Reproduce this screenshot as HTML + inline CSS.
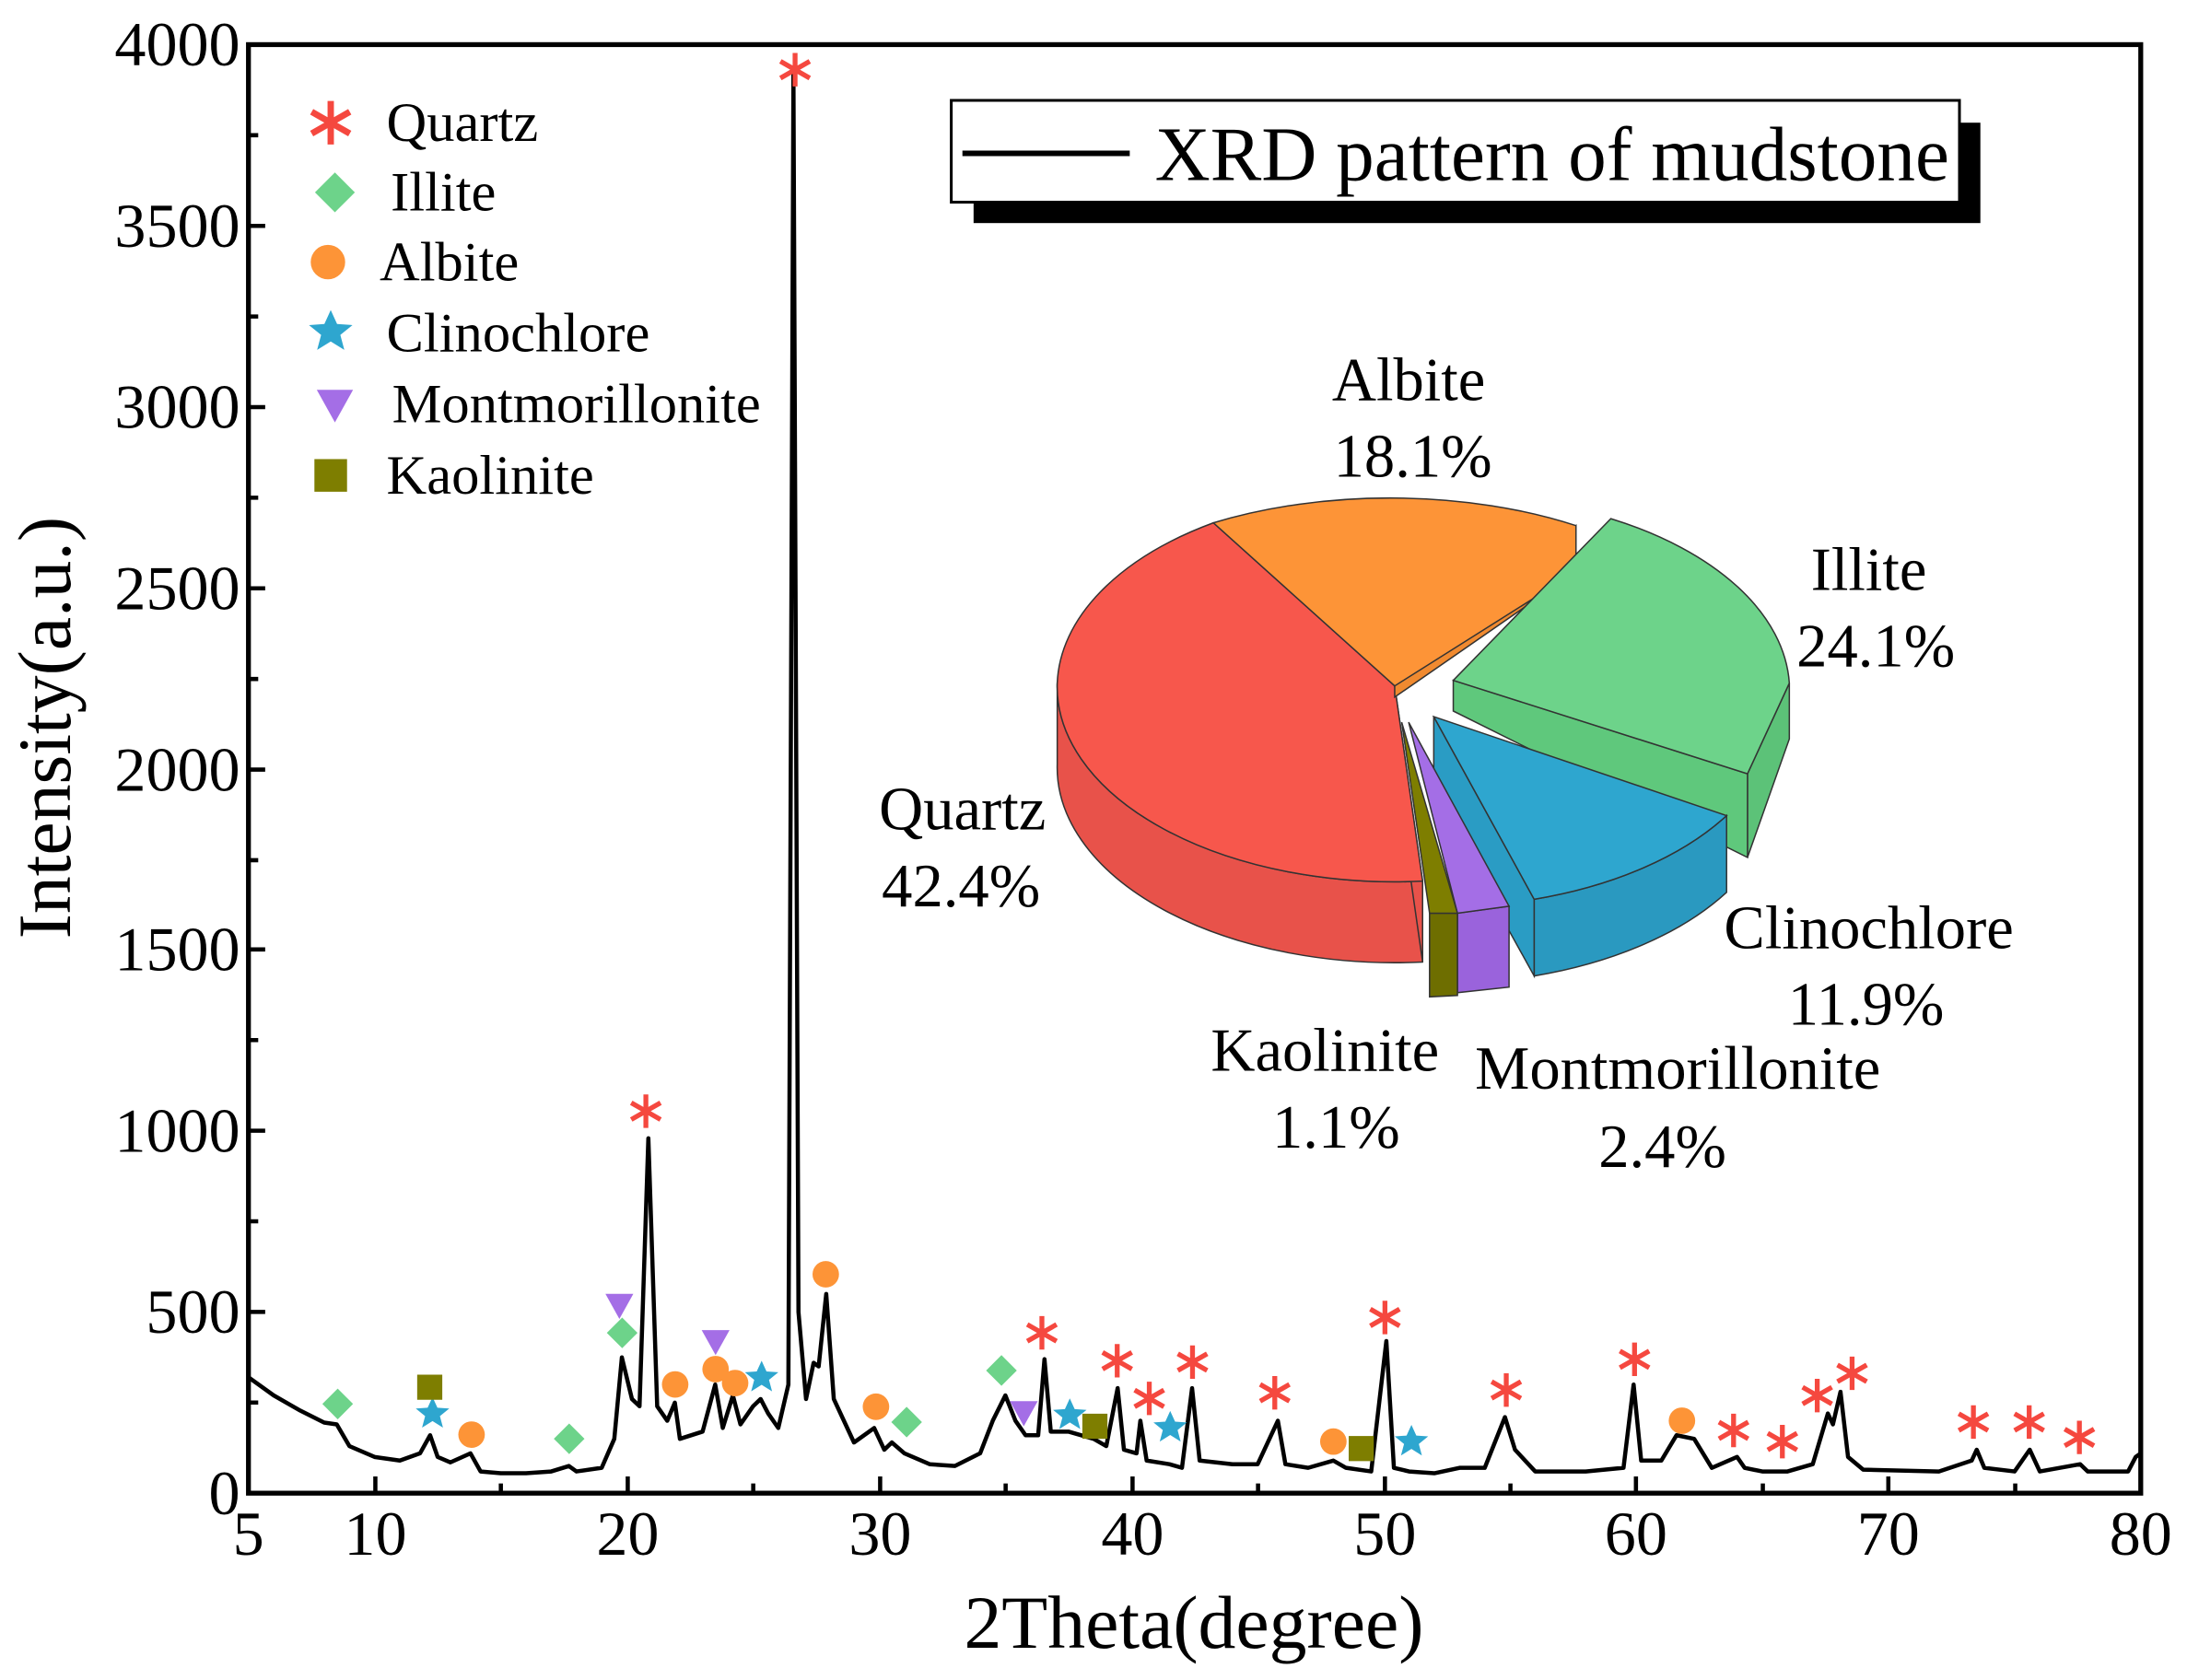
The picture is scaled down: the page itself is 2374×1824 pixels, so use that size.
<!DOCTYPE html>
<html><head><meta charset="utf-8"><style>html,body{margin:0;padding:0;background:#fff}svg{display:block}text{font-family:"Liberation Serif",serif;fill:#000}</style></head>
<body>
<svg width="2374" height="1824" viewBox="0 0 1568 1205" xmlns="http://www.w3.org/2000/svg">
<defs>
<g id="ast"><path d="M0,-12V12M-10.5,-6L10.5,6M-10.5,6L10.5,-6" stroke="#f5483f" stroke-width="3.5"/></g>
<g id="dia"><path d="M0,-11L11,0L0,11L-11,0Z" fill="#6dd38a"/></g>
<g id="cir"><circle r="9.5" fill="#fd9437"/></g>
<g id="star"><path d="M0,-12L3.5,-4.3L12,-3.7L5.3,1.7L7.5,10L0,5.3L-7.5,10L-5.3,1.7L-12,-3.7L-3.5,-4.3Z" fill="#2ea6cf"/></g>
<g id="tri"><path d="M-10,-8L10,-8L0,10Z" fill="#a46ee6"/></g>
<g id="sq"><rect x="-9" y="-9" width="18" height="18" fill="#7e7e00"/></g>
</defs>
<rect x="178" y="32" width="1357" height="1039" fill="none" stroke="#000" stroke-width="3.5"/>
<g stroke="#000" stroke-width="3">
<path d="M178,32h12M178,162h12M178,292h12M178,422h12M178,552h12M178,681h12M178,811h12M178,941h12"/>
<path d="M178,97h7M178,227h7M178,357h7M178,487h7M178,617h7M178,746h7M178,876h7M178,1006h7"/>
<path d="M269,1071v-12M450,1071v-12M631,1071v-12M812,1071v-12M993,1071v-12M1173,1071v-12M1354,1071v-12"/>
<path d="M359,1071v-7M540,1071v-7M721,1071v-7M902,1071v-7M1083,1071v-7M1264,1071v-7M1445,1071v-7"/>
</g>
<g font-size="45" text-anchor="end">
<text x="172" y="47">4000</text><text x="172" y="177">3500</text><text x="172" y="307">3000</text><text x="172" y="437">2500</text><text x="172" y="567">2000</text><text x="172" y="696">1500</text><text x="172" y="826">1000</text><text x="172" y="956">500</text><text x="172" y="1086">0</text>
</g>
<g font-size="45" text-anchor="middle">
<text x="178" y="1115">5</text><text x="269" y="1115">10</text><text x="450" y="1115">20</text><text x="631" y="1115">30</text><text x="812" y="1115">40</text><text x="993" y="1115">50</text><text x="1173" y="1115">60</text><text x="1354" y="1115">70</text><text x="1535" y="1115">80</text>
</g>
<text x="856" y="1182" font-size="54" text-anchor="middle">2Theta(degree)</text>
<text transform="translate(50,522) rotate(-90)" font-size="54" text-anchor="middle">Intensity(a.u.)</text>
<g transform="translate(178,1071) scale(18.0933,-0.25975) translate(-5,0)">
<path vector-effect="non-scaling-stroke" fill="none" stroke="#000" stroke-width="4.5" stroke-linejoin="round" d="M5,320L6,270L7,230L8,195L8.5,190L9,130L10,100L11,90L11.8,110L12.2,160L12.5,100L13,85L13.8,110L14.2,60L15,55L16,55L17,60L17.7,75L18,60L19,70L19.5,150L19.8,375L20.2,260L20.5,240L20.85,980L21.2,240L21.6,200L21.9,250L22.1,150L23,170L23.5,300L23.8,180L24.2,270L24.5,190L25,240L25.3,260L25.6,220L26,180L26.4,300L26.6,3920L26.8,500L27.1,260L27.4,360L27.6,350L27.9,550L28.2,260L29,140L29.8,180L30.2,120L30.5,140L31,110L32,80L33,75L34,110L34.5,200L35,270L35.4,200L35.8,160L36.3,160L36.55,370L36.8,170L37.5,170L38.5,150L39,130L39.45,290L39.7,120L40.2,110L40.35,200L40.6,90L41.5,80L42,70L42.4,290L42.7,90L44,80L45,80L45.8,200L46.1,80L47,70L48,90L48.5,70L49.5,60L50.1,420L50.4,70L51,60L52,55L53,70L54,70L54.8,210L55.2,120L56,60L58,60L59.5,70L59.9,300L60.2,90L61,90L61.6,160L62.3,150L63,70L64,100L64.3,70L65,60L66,60L67,80L67.6,220L67.8,190L68.1,280L68.4,100L69,65L72,60L73.3,90L73.5,120L73.8,70L75,60L75.6,120L76,60L77.6,80L77.9,60L79.5,60L79.8,100L80,110"/>
</g>
<use href="#ast" x="463" y="797"/><use href="#ast" x="570" y="50"/><use href="#ast" x="747" y="956"/><use href="#ast" x="801" y="976"/><use href="#ast" x="824" y="1003"/><use href="#ast" x="855" y="977"/><use href="#ast" x="914" y="999"/><use href="#ast" x="993" y="945"/><use href="#ast" x="1080" y="997"/><use href="#ast" x="1172" y="975"/><use href="#ast" x="1243" y="1026"/><use href="#ast" x="1278" y="1034"/><use href="#ast" x="1303" y="1001"/><use href="#ast" x="1328" y="985"/><use href="#ast" x="1415" y="1020"/><use href="#ast" x="1455" y="1020"/><use href="#ast" x="1491" y="1031"/>
<use href="#dia" x="242" y="1007"/><use href="#dia" x="408" y="1032"/><use href="#dia" x="446" y="956"/><use href="#dia" x="650" y="1020"/><use href="#dia" x="718" y="983"/>
<use href="#cir" x="338" y="1029"/><use href="#cir" x="484" y="993"/><use href="#cir" x="513" y="982"/><use href="#cir" x="527" y="992"/><use href="#cir" x="592" y="914"/><use href="#cir" x="628" y="1009"/><use href="#cir" x="956" y="1034"/><use href="#cir" x="1206" y="1019"/>
<use href="#star" x="310" y="1014"/><use href="#star" x="546" y="988"/><use href="#star" x="767" y="1015"/><use href="#star" x="839" y="1024"/><use href="#star" x="1012" y="1034"/>
<use href="#tri" x="444" y="936"/><use href="#tri" x="513" y="962"/><use href="#tri" x="734" y="1013"/>
<use href="#sq" x="308" y="995"/><use href="#sq" x="785" y="1023"/><use href="#sq" x="976" y="1039"/>
<g transform="translate(237,88) scale(1.3)"><use href="#ast"/></g>
<g transform="translate(240,138) scale(1.3)"><use href="#dia"/></g>
<g transform="translate(235,188) scale(1.3)"><use href="#cir"/></g>
<g transform="translate(237,238) scale(1.3)"><use href="#star"/></g>
<g transform="translate(240,290) scale(1.3)"><use href="#tri"/></g>
<g transform="translate(237,341) scale(1.3)"><use href="#sq"/></g>
<g font-size="40"><text x="277" y="101">Quartz</text><text x="280" y="151">Illite</text><text x="272" y="201">Albite</text><text x="277" y="252">Clinochlore</text><text x="281" y="303">Montmorillonite</text><text x="277" y="354">Kaolinite</text></g>
<rect x="698" y="88" width="722" height="72" fill="#000"/>
<rect x="682" y="72" width="723" height="73" fill="#fff" stroke="#000" stroke-width="2"/>
<line x1="690" y1="110" x2="810" y2="110" stroke="#000" stroke-width="4"/>
<text x="828" y="129" font-size="55">XRD pattern of mudstone</text>
<g stroke="#333" stroke-width="1">
<path d="M758,490A242,140 0 0 0 1020,632L1020,690A242,140 0 0 1 758,548Z" fill="#e8524a"/>
<path d="M1000,492L1020,632L1020,690L1000,550Z" fill="#e8524a"/>
<path d="M1000,492L870,375A242,140 0 0 0 758,490A242,140 0 0 0 1020,632Z" fill="#f7574c"/>
<path d="M1130,377L1130,410L1000,500L1000,492Z" fill="#f08a30"/>
<path d="M1000,492L870,375A242,120 0 0 1 1130,377L1130,410Z" fill="#fd9437"/>
<path d="M1283,490L1283,530L1253,615L1253,555Z" fill="#5cc278"/>
<path d="M1042,488L1253,555L1253,615L1042,510Z" fill="#5fc87c"/>
<path d="M1042,488L1155,372A242,140 0 0 1 1283,490L1253,555Z" fill="#6dd38a"/>
<path d="M1238,585L1238,640A242,140 0 0 1 1100,700L1100,645A242,140 0 0 0 1238,585Z" fill="#2a99c0"/>
<path d="M1028,514L1100,645L1100,700L1028,570Z" fill="#2a9cc4"/>
<path d="M1028,514L1238,585A242,140 0 0 1 1100,645Z" fill="#2ea6cf"/>
<path d="M1045,655L1082,650L1082,708L1045,712Z" fill="#9a63dc"/>
<path d="M1010,518L1082,650L1045,655Z" fill="#a46ee6"/>
<path d="M1025,655L1045,655L1045,714L1025,715Z" fill="#6e6e00"/>
<path d="M1005,518L1045,655L1025,655Z" fill="#7e7e00"/>
</g>
<g font-size="44" text-anchor="middle">
<text x="1010" y="287">Albite</text><text x="1013" y="342">18.1%</text>
<text x="1340" y="423">Illite</text><text x="1345" y="478">24.1%</text>
<text x="690" y="595">Quartz</text><text x="689" y="650">42.4%</text>
<text x="1340" y="680">Clinochlore</text><text x="1338" y="735">11.9%</text>
<text x="950" y="768">Kaolinite</text><text x="958" y="823">1.1%</text>
<text x="1203" y="781">Montmorillonite</text><text x="1192" y="837">2.4%</text>
</g>
</svg>
</body></html>
